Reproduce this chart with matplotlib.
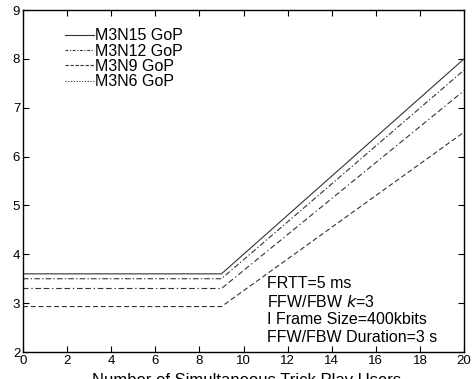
import matplotlib
matplotlib.use("Agg")
import matplotlib.pyplot as plt
from matplotlib.lines import Line2D

plt.rcParams['font.family'] = ['Liberation Sans', 'DejaVu Sans']

# zapping users axis, break point at 9
x = [0, 9, 20]
m3n15 = [3.6, 3.6, 8.0]
m3n12 = [3.5, 3.5, 7.77]
m3n9 = [3.3, 3.3, 7.35]
m3n6 = [2.93, 2.93, 6.5]

labels = ["M3N15 GoP", "M3N12 GoP", "M3N9 GoP", "M3N6 GoP"]
notes = ["FRTT=5 ms", "FFW/FBW $\\it{k}$=3", "I Frame Size=400kbits", "FFW/FBW Duration=3 s"]

fig = plt.figure(figsize=(4.74, 3.79), dpi=100)
ax = fig.add_axes([0.0485, 0.0712, 0.9305, 0.9024])

c = '#333333'
ax.plot(x, m3n15, color=c, lw=0.8, linestyle='-')
ax.plot(x, m3n12, color=c, lw=0.8, dashes=(5, 2, 1.2, 2))
ax.plot(x, m3n9, color=c, lw=0.8, dashes=(5, 2.5, 1.2, 2.5, 5, 2.5))
ax.plot(x, m3n6, color=c, lw=0.8, dashes=(4.5, 2.5))

# legend as in the original (old style, no frame)
handles = [
    Line2D([], [], color=c, lw=0.8, linestyle='-'),
    Line2D([], [], color=c, lw=0.8, dashes=(2.5, 1.5, 1, 1.5)),
    Line2D([], [], color=c, lw=0.8, dashes=(3, 1.5)),
    Line2D([], [], color=c, lw=0.8, dashes=(1, 1.5)),
]
leg = ax.legend(handles, labels, loc='upper left', bbox_to_anchor=(0.08, 0.965),
                frameon=False, fontsize=11.5, handlelength=1.85, handletextpad=0.05,
                labelspacing=0.02, borderaxespad=0)

for i, t in enumerate(notes):
    ax.text(11.05, 3.4 - i * 0.37, t, fontsize=11.5, va='center', ha='left')

ax.set_xlim(0, 20)
ax.set_ylim(2, 9)
ax.set_xticks(range(0, 21, 2))
ax.set_yticks(range(2, 10))
ax.tick_params(direction='in', top=True, right=True, length=4, width=0.8,
               labelsize=9.5, pad=2)
for s in ax.spines.values():
    s.set_linewidth(1.0)

# x label is cut off at the bottom of the figure, as in the source
fig.text(0.52, 0.015, "Number of Simultaneous Trick Play Users", fontsize=12,
         ha='center', va='top')

fig.savefig("out.png", dpi=100)
